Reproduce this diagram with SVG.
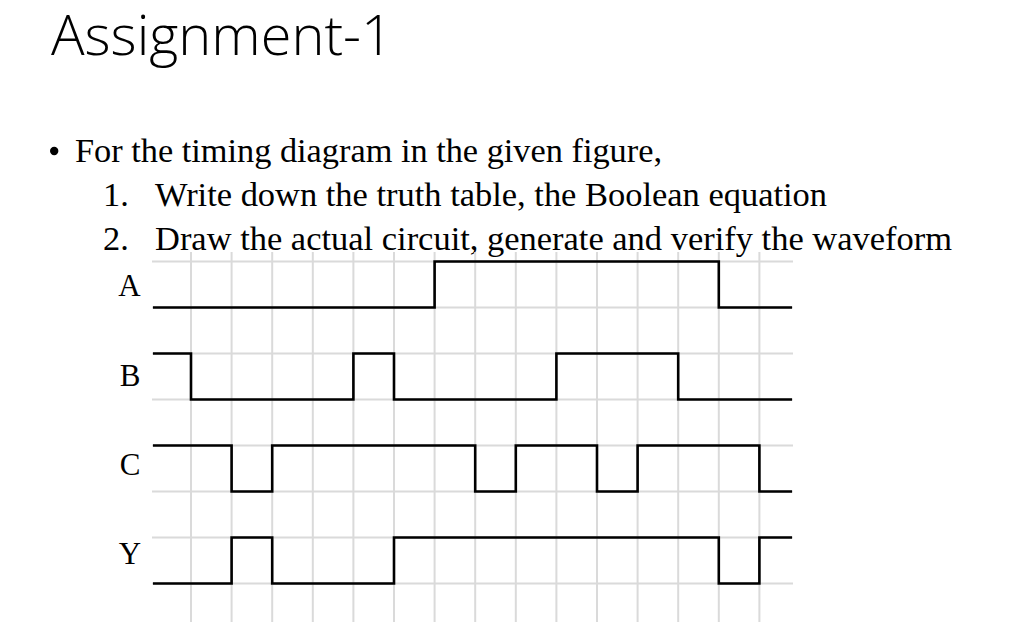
<svg xmlns="http://www.w3.org/2000/svg" width="1024" height="633" viewBox="0 0 1024 633">
<style>
.title{font-family:"Open Sans","Liberation Sans",sans-serif;font-weight:300;font-size:56px;fill:#000}
.body{font-family:"Liberation Serif","Times New Roman",serif;font-size:34.4px;fill:#000}
.lbl{font-family:"Liberation Serif","Times New Roman",serif;font-size:31px;fill:#000;text-anchor:middle}
.grid{stroke:#dadada;stroke-width:2;fill:none}
.wave{stroke:#000;stroke-width:2.6;fill:none;stroke-linejoin:miter;stroke-linecap:butt}
</style>
<rect width="1024" height="633" fill="#fff"/>
<text id="title" class="title" x="51" y="55" textLength="342" lengthAdjust="spacingAndGlyphs">Assignment-1</text>
<g id="text">
<circle cx="54.2" cy="151" r="4.2" fill="#000"/>
<text class="body" x="75" y="162" textLength="587" lengthAdjust="spacingAndGlyphs">For the timing diagram in the given figure,</text>
<text class="body" x="103" y="206">1.</text>
<text class="body" x="155" y="206" textLength="672" lengthAdjust="spacingAndGlyphs">Write down the truth table, the Boolean equation</text>
<text class="body" x="103" y="250">2.</text>
<text class="body" x="155" y="250" textLength="797" lengthAdjust="spacingAndGlyphs">Draw the actual circuit, generate and verify the waveform</text>
</g>
<g id="grid" class="grid">
<path d="M191,252V622M231.6,252V622M272.2,252V622M312.8,252V622M353.4,252V622M394,252V622M434.6,252V622M475.2,252V622M515.8,252V622M556.4,252V622M597,252V622M637.6,252V622M678.2,252V622M718.8,252V622M759.4,252V622"/>
<path d="M152,261.5H793M152,307.5H793M152,353.5H793M152,399.5H793M152,445.5H793M152,491.5H793M152,537.5H793M152,583.5H793"/>
</g>
<g id="labels">
<text class="lbl" x="129.5" y="296">A</text>
<text class="lbl" x="130" y="386">B</text>
<text class="lbl" x="130" y="475">C</text>
<text class="lbl" x="130" y="564">Y</text>
</g>
<g id="waves" class="wave">
<path id="wA" d="M153,307.5H434.6V261.5H718.8V307.5H792"/>
<path id="wB" d="M153,353.5H191V399.5H353.4V353.5H394V399.5H556.4V353.5H678.2V399.5H792"/>
<path id="wC" d="M153,445.5H231.6V491.5H272.2V445.5H475.2V491.5H515.8V445.5H597V491.5H637.6V445.5H759.4V491.5H792"/>
<path id="wY" d="M153,583.5H231.6V537.5H272.2V583.5H394V537.5H718.8V583.5H759.4V537.5H792"/>
</g>
</svg>
